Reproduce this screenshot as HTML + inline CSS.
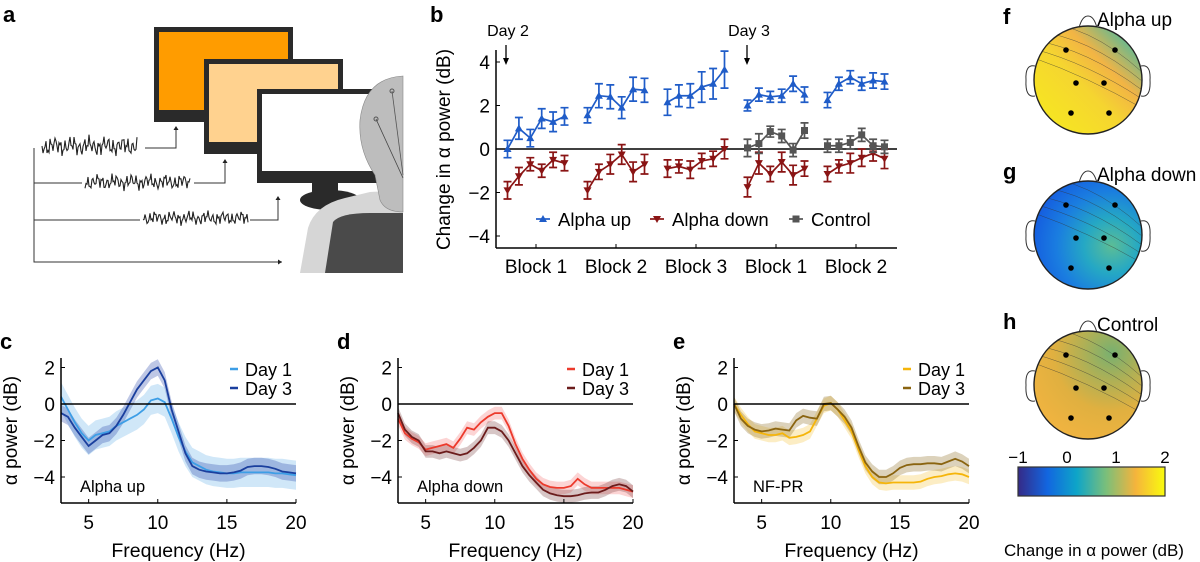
<!DOCTYPE html>
<html><head><meta charset="utf-8"><style>
body{margin:0;background:#fff;}
svg{display:block;font-family:"Liberation Sans",sans-serif;}
</style></head><body>
<svg id="fig" width="1200" height="562" viewBox="0 0 1200 562">
<defs>
<linearGradient id="gf" x1="0" y1="1" x2="1" y2="0"><stop offset="0" stop-color="#f7ec1c"/><stop offset="0.45" stop-color="#f5d530"/><stop offset="0.65" stop-color="#f2b445"/><stop offset="0.85" stop-color="#72b88a"/><stop offset="1" stop-color="#2cb5b8"/></linearGradient>
<radialGradient id="gg" cx="0.72" cy="0.6" r="0.85"><stop offset="0" stop-color="#5cbd96"/><stop offset="0.3" stop-color="#25a8c4"/><stop offset="0.6" stop-color="#1a7de0"/><stop offset="0.85" stop-color="#1560e0"/><stop offset="1" stop-color="#302c9a"/></radialGradient>
<radialGradient id="gh" cx="0.72" cy="0.2" r="0.9"><stop offset="0" stop-color="#78b070"/><stop offset="0.3" stop-color="#b0b055"/><stop offset="0.6" stop-color="#e0b040"/><stop offset="1" stop-color="#f2b440"/></radialGradient>
<linearGradient id="gcb" x1="0" y1="0" x2="1" y2="0"><stop offset="0" stop-color="#352a87"/><stop offset="0.2" stop-color="#1266e0"/><stop offset="0.4" stop-color="#0ea5c8"/><stop offset="0.6" stop-color="#7bbf7a"/><stop offset="0.8" stop-color="#f5b43c"/><stop offset="1" stop-color="#f9fb0e"/></linearGradient>
</defs>
<g id="panelA"></g>
<g id="panelB"></g>
<g id="panelC"></g>
<g id="panelD"></g>
<g id="panelE"></g>
<g id="panelT"></g>
</svg>
<script>
// ---------- Panel b data ----------
const blockLabels = ["Block 1","Block 2","Block 3","Block 1","Block 2"];
const bTicks = [4,2,0,-2,-4];
const alphaUp = [0,0.95,0.5,1.4,1.25,1.5, 1.55,2.45,2.4,1.9,2.75,2.7, 2.15,2.45,2.45,2.85,3.0,3.65, 2.0,2.5,2.4,2.45,3.0,2.5, 2.25,3.0,3.3,3.0,3.15,3.1];
const alphaUpErr = [.4,.5,.4,.45,.45,.4, .35,.55,.55,.5,.55,.55, .6,.5,.55,.7,.7,.85, .25,.3,.25,.3,.35,.35, .35,.3,.3,.3,.35,.35];
const alphaDown = [-1.9,-1.25,-0.7,-1.0,-0.5,-0.65, -1.9,-1.05,-0.7,-0.25,-1.05,-0.7, -0.9,-0.8,-0.95,-0.55,-0.45,0, -1.75,-0.65,-1.15,-0.6,-1.2,-0.9, -1.15,-0.8,-0.65,-0.4,-0.2,-0.45];
const alphaDownErr = [.4,.4,.3,.3,.35,.35, .4,.35,.45,.45,.45,.45, .4,.3,.4,.35,.35,.45, .45,.5,.35,.45,.45,.35, .35,.3,.45,.4,.35,.45];
const control = [0.05,0.25,0.8,0.6,-0.05,0.85, 0.15,0.15,0.3,0.65,0.15,0.1];
const controlErr = [.4,.45,.25,.3,.3,.35, .3,.3,.3,.3,.3,.3];
const controlStartBlock = 3;
// ---------- Spectra data ----------
const freqs = [3,3.5,4,4.5,5,5.5,6,6.5,7,7.5,8,8.5,9,9.5,10,10.5,11,11.5,12,12.5,13,13.5,14,14.5,15,15.5,16,16.5,17,17.5,18,18.5,19,19.5,20];
const freqTicks = [5,10,15,20];
const powTicks = [2,0,-2,-4];
const upDay1 = [0.4,-0.3,-1.0,-1.6,-2.0,-1.7,-1.6,-1.5,-1.2,-1.0,-0.8,-0.6,-0.3,0.2,0.3,0.1,-0.8,-1.8,-2.6,-3.2,-3.4,-3.6,-3.7,-3.75,-3.8,-3.8,-3.75,-3.75,-3.75,-3.75,-3.75,-3.8,-3.8,-3.85,-3.9];
const upDay3 = [-0.5,-0.7,-1.3,-1.8,-2.3,-2.0,-1.7,-1.6,-1.2,-0.6,0.1,0.8,1.3,1.8,2.0,1.3,-0.3,-1.5,-2.7,-3.4,-3.6,-3.7,-3.75,-3.8,-3.8,-3.75,-3.65,-3.45,-3.4,-3.4,-3.45,-3.55,-3.7,-3.75,-3.8];
const downDay1 = [-0.8,-1.6,-1.9,-2.1,-2.5,-2.4,-2.3,-2.2,-2.4,-1.9,-1.3,-1.4,-1.0,-0.7,-0.5,-0.5,-1.2,-2.2,-3.0,-3.6,-4.1,-4.4,-4.55,-4.6,-4.6,-4.5,-4.1,-4.4,-4.6,-4.6,-4.6,-4.6,-4.6,-4.7,-4.8];
const downDay3 = [-0.5,-1.4,-1.8,-2.0,-2.6,-2.6,-2.7,-2.6,-2.7,-2.8,-2.7,-2.4,-2.0,-1.3,-1.3,-1.5,-2.0,-2.7,-3.4,-3.9,-4.3,-4.7,-4.9,-5.0,-5.05,-5.05,-5.0,-4.9,-4.85,-4.85,-4.7,-4.5,-4.4,-4.5,-4.8];
const prDay1 = [0,-0.6,-1.1,-1.5,-1.6,-1.7,-1.7,-1.6,-1.85,-1.8,-1.7,-1.5,-0.8,-0.1,0.05,-0.3,-0.9,-1.5,-2.5,-3.4,-4.0,-4.3,-4.35,-4.3,-4.3,-4.3,-4.3,-4.25,-4.1,-4.0,-3.95,-3.85,-3.8,-3.85,-4.0];
const prDay3 = [0,-0.8,-1.2,-1.4,-1.5,-1.45,-1.35,-1.4,-1.45,-0.9,-0.65,-0.75,-0.8,0,0.05,-0.3,-0.7,-1.3,-2.3,-3.2,-3.7,-4.0,-4.0,-3.8,-3.5,-3.35,-3.3,-3.3,-3.25,-3.25,-3.3,-3.15,-3.0,-3.15,-3.4];
const cbTicks = [-1,0,1,2];

const NS="http://www.w3.org/2000/svg";
function mk(parent,tag,attrs,text){const e=document.createElementNS(NS,tag);for(const k in attrs)e.setAttribute(k,attrs[k]);if(text!==undefined)e.textContent=text;parent.appendChild(e);return e;}

// ---------- Panel A ----------
(function(){
const g=document.getElementById('panelA');
let t=mk(g,'text',{x:3,y:22,'font-size':22,'font-weight':'bold'},'a');


const mons=[[154,27,139,95,'#ff9c00'],[204,59,139,95,'#ffd28f'],[257,89,140,94,'#ffffff']];
mk(g,'rect',{x:312,y:183,width:26,height:16,fill:'#2a2a2a'});
mk(g,'ellipse',{cx:330,cy:200,rx:30,ry:10,fill:'#2a2a2a'});
mons.forEach((m,i)=>{
 const r=mk(g,'rect',{x:m[0],y:m[1],width:m[2],height:m[3],fill:'#2a2a2a'});
 
 
 mk(g,'rect',{x:m[0]+5,y:m[1]+5,width:m[2]-10,height:m[3]-17,fill:m[4]});
});
// person
mk(g,'path',{d:'M300 273 L308 228 Q315 205 345 198 L370 192 Q395 190 403 200 L403 273 Z',fill:'#d6d6d6'});
mk(g,'path',{d:'M325 273 L333 222 Q340 213 370 213 L403 213 L403 273 Z',fill:'#4a4a4a'});
mk(g,'path',{d:'M403 76 Q365 78 360 120 Q358 150 375 175 L380 200 Q385 212 403 212 Z',fill:'#bdbdbd',stroke:'#888','stroke-width':0.6});
mk(g,'line',{x1:392,y1:91,x2:403,y2:175,stroke:'#555','stroke-width':0.8});
mk(g,'line',{x1:376,y1:119,x2:403,y2:178,stroke:'#444','stroke-width':0.8});
mk(g,'circle',{cx:392,cy:91,r:2,fill:'none',stroke:'#555'});
mk(g,'circle',{cx:376,cy:119,r:2,fill:'none',stroke:'#555'});
// wires
const st={stroke:'#333','stroke-width':1,fill:'none'};
mk(g,'path',Object.assign({d:'M34 148 L34 262 L282 262'},st));
mk(g,'path',Object.assign({d:'M34 183 L82 183 M34 220 L140 220'},st));
mk(g,'path',Object.assign({d:'M145 148 L176 148 L176 128'},st));
mk(g,'path',Object.assign({d:'M194 183 L225 183 L225 161'},st));
mk(g,'path',Object.assign({d:'M250 220 L278 220 L278 198'},st));
[[176,126],[225,159],[278,196]].forEach(p=>mk(g,'path',{d:`M${p[0]-2.5} ${p[1]+4} L${p[0]} ${p[1]} L${p[0]+2.5} ${p[1]+4} Z`,fill:'#222'}));
mk(g,'path',{d:'M278 259.5 L282 262 L278 264.5 Z',fill:'#222'});
const waves=[[42,137,146,11],[85,190,182,9],[143,248,218,8]];
waves.forEach((w,k)=>{
 let d='';
 for(let x=w[0],i=0;x<=w[1];x+=1,i++){
  const y=w[2]+w[3]*(Math.sin(i*1.3+k)*0.5+Math.sin(i*2.9+k*2)*0.3+Math.sin(i*0.37)*0.25);
  d+=(d?'L':'M')+x.toFixed(1)+' '+y.toFixed(1);
 }
 const p=mk(g,'path',{d:d,stroke:'#222','stroke-width':1.1,fill:'none'});
 
 
});
})();

// ---------- Panel B ----------
(function(){
const g=document.getElementById('panelB');
const L=496,R=897,B=248,y0=149,ppd=21.75,bw=80,step=11.4;
const Y=v=>y0-v*ppd;
const X=(b,i)=>L+40+bw*b+(i-2.5)*step;
let t=mk(g,'text',{x:430,y:22,'font-size':22,'font-weight':'bold'},'b');


mk(g,'line',{x1:L,y1:50,x2:L,y2:B,stroke:'#000','stroke-width':1.5});
mk(g,'line',{x1:L,y1:B,x2:R,y2:B,stroke:'#000','stroke-width':1.5});
mk(g,'line',{x1:L,y1:Y(0),x2:R,y2:Y(0),stroke:'#000','stroke-width':1.5});
bTicks.forEach(v=>{
 mk(g,'line',{x1:L,y1:Y(v),x2:L+4,y2:Y(v),stroke:'#000'});
 const tx=mk(g,'text',{x:L-6,y:Y(v)+7,'font-size':19,'text-anchor':'end'},v<0?'\u2212'+(-v):String(v));
 
 
});
blockLabels.forEach((lb,b)=>{
 const cx=L+40+bw*b;
 mk(g,'line',{x1:cx,y1:B,x2:cx,y2:B-4,stroke:'#000'});
 const tx=mk(g,'text',{x:cx,y:B+25,'font-size':19,'text-anchor':'middle'},lb);
 
 
});
const yt=mk(g,'text',{x:0,y:0,'font-size':19,'text-anchor':'middle',transform:`translate(450,${(62+237)/2}) rotate(-90)`},'Change in \u03b1 power (dB)');


[['Day 2',506],['Day 3',747]].forEach(d=>{
 const tx=mk(g,'text',{x:d[1]+2,y:36,'font-size':16,'text-anchor':'middle'},d[0]);
 
 
 mk(g,'line',{x1:d[1],y1:45,x2:d[1],y2:62,stroke:'#000','stroke-width':1.3});
 mk(g,'path',{d:`M${d[1]-3} 58 L${d[1]} 65 L${d[1]+3} 58 Z`,fill:'#000'});
});
function marker(gg,type,x,y,col){
 if(type==='up')return mk(gg,'path',{d:`M${x-4} ${y+3} L${x} ${y-4} L${x+4} ${y+3} Z`,fill:col});
 if(type==='down')return mk(gg,'path',{d:`M${x-4} ${y-3} L${x} ${y+4} L${x+4} ${y-3} Z`,fill:col});
 return mk(gg,'rect',{x:x-3.5,y:y-3.5,width:7,height:7,fill:col});
}
function series(name,vals,errs,startB,col,type){
 const sg=mk(g,'g',{});
 
 
 const nb=vals.length/6;
 for(let b=0;b<nb;b++){
  let d='';
  for(let i=0;i<6;i++){const x=X(b+startB,i),y=Y(vals[b*6+i]);d+=(i?'L':'M')+x+' '+y;}
  mk(sg,'path',{d:d,stroke:col,'stroke-width':1.7,fill:'none'});
  for(let i=0;i<6;i++){
   const k=b*6+i,x=X(b+startB,i),v=vals[k],e=errs[k];
   const eb=mk(sg,'path',{d:`M${x} ${Y(v+e)} L${x} ${Y(v-e)} M${x-4} ${Y(v+e)} L${x+4} ${Y(v+e)} M${x-4} ${Y(v-e)} L${x+4} ${Y(v-e)}`,stroke:col,'stroke-width':1.7,fill:'none'});
   
   
   const m=marker(sg,type,x,Y(v),col);
   
   
  }
 }
}
series('alpha-up',alphaUp,alphaUpErr,0,'#1f5cc8','up');
series('alpha-down',alphaDown,alphaDownErr,0,'#8a1414','down');
series('control',control,controlErr,controlStartBlock,'#555555','sq');
const lg=mk(g,'g',{});


[['Alpha up',536,'#1f5cc8','up'],['Alpha down',650,'#8a1414','down'],['Control',789,'#555555','sq']].forEach(e=>{
 const yy=219;
 mk(lg,'line',{x1:e[1],y1:yy,x2:e[1]+14,y2:yy,stroke:e[2],'stroke-width':1.7});
 marker(lg,e[3],e[1]+7,yy,e[2]);
 const tx=mk(lg,'text',{x:e[1]+22,y:yy+7,'font-size':18.5},e[0]);
 
 
});
})();

// ---------- Spectra panels ----------
function spectrum(id,letter,L,d1,d3,w1,w3,c1,b1,c3,b3,label){
 const g=document.getElementById(id);
 const W=235,y0=404,ppd=18.25,B=503,T=358;
 const X=f=>L+(f-3)*W/17, Y=v=>y0-v*ppd;
 let t=mk(g,'text',{x:L-61,y:349,'font-size':22,'font-weight':'bold'},letter);
 
 
 function band(vals,w,fill,name){
  let d='';
  freqs.forEach((f,i)=>{d+=(i?'L':'M')+X(f).toFixed(1)+' '+Y(vals[i]+w).toFixed(1);});
  for(let i=freqs.length-1;i>=0;i--)d+='L'+X(freqs[i]).toFixed(1)+' '+Y(vals[i]-w).toFixed(1);
  const p=mk(g,'path',{d:d+'Z',fill:fill});
  
  
 }
 function line(vals,col,name){
  let d='';freqs.forEach((f,i)=>{d+=(i?'L':'M')+X(f).toFixed(1)+' '+Y(vals[i]).toFixed(1);});
  const p=mk(g,'path',{d:d,stroke:col,'stroke-width':1.8,fill:'none'});
  
  
 }
 band(d1,w1,b1,'day1-band');band(d3,w3,b3,'day3-band');
 line(d1,c1,'day1-line');line(d3,c3,'day3-line');
 mk(g,'line',{x1:L,y1:Y(0),x2:L+W,y2:Y(0),stroke:'#000','stroke-width':1.4});
 mk(g,'line',{x1:L,y1:T,x2:L,y2:B,stroke:'#000','stroke-width':1.5});
 mk(g,'line',{x1:L,y1:B,x2:L+W,y2:B,stroke:'#000','stroke-width':1.5});
 powTicks.forEach(v=>{
  mk(g,'line',{x1:L,y1:Y(v),x2:L+4,y2:Y(v),stroke:'#000'});
  const tx=mk(g,'text',{x:L-6,y:Y(v)+7,'font-size':19,'text-anchor':'end'},v<0?'\u2212'+(-v):String(v));
  
  
 });
 freqTicks.forEach(f=>{
  mk(g,'line',{x1:X(f),y1:B,x2:X(f),y2:B-4,stroke:'#000'});
  const tx=mk(g,'text',{x:X(f),y:B+26,'font-size':19,'text-anchor':'middle'},String(f));
  
  
 });
 let xt=mk(g,'text',{x:L+W/2,y:557,'font-size':19.5,'text-anchor':'middle'},'Frequency (Hz)');
 
 
 let yt=mk(g,'text',{x:0,y:0,'font-size':19,'text-anchor':'middle',transform:`translate(${L-44},${(T+B)/2}) rotate(-90)`},'\u03b1 power (dB)');
 
 
 let pl=mk(g,'text',{x:L+19,y:492,'font-size':16.5},label);
 
 
 [['Day 1',c1,369],['Day 3',c3,388]].forEach(e=>{
  mk(g,'line',{x1:L+W-66,y1:e[2],x2:L+W-58,y2:e[2],stroke:e[1],'stroke-width':2.5});
  const tx=mk(g,'text',{x:L+W-51,y:e[2]+7,'font-size':18},e[0]);
  
  
 });
}
spectrum('panelC','c',61,upDay1,upDay3,0.8,0.45,'#3d9ee6','rgba(120,185,235,0.35)','#1a3f9e','rgba(40,70,170,0.3)','Alpha up');
spectrum('panelD','d',398,downDay1,downDay3,0.35,0.35,'#ec3a2c','rgba(245,100,100,0.28)','#6b1c1c','rgba(110,50,50,0.28)','Alpha down');
spectrum('panelE','e',734,prDay1,prDay3,0.4,0.4,'#f5b50a','rgba(245,195,60,0.3)','#8a6410','rgba(145,115,45,0.32)','NF-PR');

// ---------- Topomaps ----------
(function(){
const g=document.getElementById('panelT');
const maps=[['f','Alpha up',80,'url(#gf)'],['g','Alpha down',235,'url(#gg)'],['h','Control',385,'url(#gh)']];
const cx=1088,r=54;
const elec=[[-22,-30],[27,-30],[-12,3],[16,3],[-17,33],[21,33]];
maps.forEach(m=>{
 const cy=m[2];
 const hg=mk(g,'g',{});
 
 
 mk(hg,'text',{x:1003,y:cy-56,'font-size':22,'font-weight':'bold'},m[0]);
 mk(hg,'path',{d:`M${cx-9} ${cy-r+2} Q${cx-6} ${cy-r-10} ${cx} ${cy-r-10} Q${cx+6} ${cy-r-10} ${cx+9} ${cy-r+2}`,fill:'#fff',stroke:'#333','stroke-width':1});
 mk(hg,'text',{x:1097,y:cy-54,'font-size':19},m[1]);
 mk(hg,'path',{d:`M${cx-r+1} ${cy-14} Q${cx-r-9} ${cy-16} ${cx-r-8} ${cy} Q${cx-r-9} ${cy+18} ${cx-r+1} ${cy+16}`,fill:'#fff',stroke:'#333','stroke-width':1});
 mk(hg,'path',{d:`M${cx+r-1} ${cy-14} Q${cx+r+9} ${cy-16} ${cx+r+8} ${cy} Q${cx+r+9} ${cy+18} ${cx+r-1} ${cy+16}`,fill:'#fff',stroke:'#333','stroke-width':1});
 mk(hg,'circle',{cx:cx,cy:cy,r:r,fill:m[3],stroke:'#222','stroke-width':1.4});
 const cp='clip'+m[0];
 const c=mk(document.querySelector('defs'),'clipPath',{id:cp});
 mk(c,'circle',{cx:cx,cy:cy,r:r});
 const cg=mk(hg,'g',{'clip-path':`url(#${cp})`});
 for(let k=0;k<5;k++){
  const o=k*9-18;
  mk(cg,'path',{d:`M${cx-r} ${cy-40+o} Q${cx} ${cy-30+o*1.5} ${cx+r} ${cy+10+o}`,stroke:'#333','stroke-width':0.5,fill:'none','stroke-opacity':0.7});
 }
 elec.forEach(e=>mk(hg,'circle',{cx:cx+e[0],cy:cy+e[1],r:2.8,fill:'#000'}));
});
const cbx=1018,cbw=147,cby=467,cbh=29;
const cb=mk(g,'rect',{x:cbx,y:cby,width:cbw,height:cbh,fill:'url(#gcb)',stroke:'#333','stroke-width':1.2});


cbTicks.forEach(v=>{
 const x=cbx+(v+1)/3*cbw;
 const tx=mk(g,'text',{x:x,y:463,'font-size':17,'text-anchor':'middle'},v<0?'\u2212'+(-v):String(v));
 
 
});
const ct=mk(g,'text',{x:1094,y:556,'font-size':17,'text-anchor':'middle'},'Change in \u03b1 power (dB)');


})();
</script>
</body></html>
